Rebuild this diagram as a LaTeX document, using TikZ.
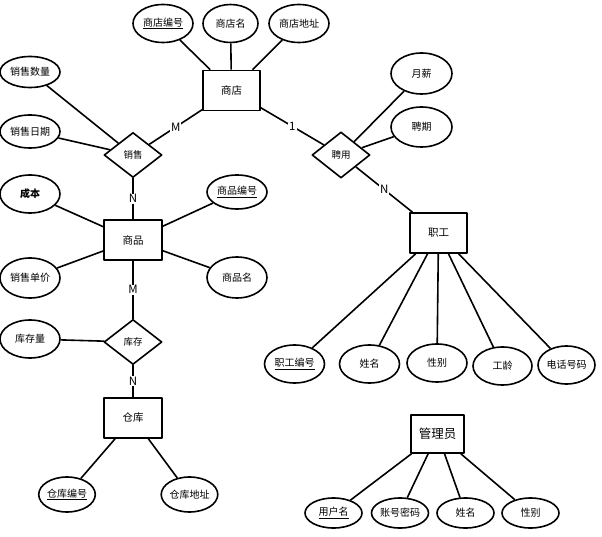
\documentclass[tikz,border=0pt]{standalone}
\usepackage{fontspec}
\setmainfont{Noto Sans CJK SC}
\usetikzlibrary{shapes.geometric}
\begin{document}
\begin{tikzpicture}[x=1pt, y=-1pt, line width=1.6pt, line join=round, font=\fontsize{10}{12}\selectfont,
  attr/.style={draw, ellipse, minimum width=60pt, minimum height=38pt, inner sep=0pt},
  ent/.style={draw, rectangle, minimum width=57pt, minimum height=40pt, inner sep=0pt, font=\fontsize{10.5}{12}\selectfont},
  rel/.style={draw, diamond, minimum width=58pt, minimum height=45pt, inner sep=0pt, font=\fontsize{9.5}{12}\selectfont},
  card/.style={fill=white, inner sep=1pt, font=\fontsize{11.5}{13}\selectfont}]
\useasboundingbox (0,0) rectangle (602,537);
% shop
\node[ent] (shop) at (231.5,90.5) {商店};
\node[attr] (shopid) at (163,23.5) {\underline{商店编号}};
\node[attr, minimum width=55pt] (shopname) at (230.5,23.5) {商店名};
\node[attr] (shopaddr) at (299,23.5) {商店地址};
% sales
\node[rel] (sell) at (133,155) {销售};
\node[attr, minimum height=31pt] (sellnum) at (30,72) {销售数量};
\node[attr, minimum height=33pt] (selldate) at (30,131.5) {销售日期};
% goods
\node[ent, minimum width=58pt] (goods) at (133,240) {商品};
\node[attr] (cost) at (30,194) {\bfseries 成本};
\node[attr, minimum height=34pt] (goodsid) at (237,192) {\underline{商品编号}};
\node[attr, minimum height=41pt] (goodsname) at (237,277.5) {商品名};
\node[attr, minimum height=40pt] (price) at (30,278) {销售单价};
% stock
\node[rel] (stock) at (133,342) {库存};
\node[attr] (stocknum) at (30,339) {库存量};
\node[ent, minimum width=58pt] (store) at (133,418) {仓库};
\node[attr, minimum width=53pt, minimum height=35pt] (storeid) at (67,494.5) {\underline{仓库编号}};
\node[attr, minimum width=53pt, minimum height=35pt] (storeaddr) at (189.5,494.5) {仓库地址};
% hire
\node[rel, minimum height=46pt] (hire) at (341,155) {聘用};
\node[attr, minimum width=61pt, minimum height=41pt] (salary) at (421.5,73.5) {月薪};
\node[attr, minimum width=61pt, minimum height=40pt] (term) at (421.5,127) {聘期};
\node[ent] (staff) at (438.5,233) {职工};
\node[attr] (staffid) at (294.5,364) {\underline{职工编号}};
\node[attr] (staffname) at (369.5,364) {姓名};
\node[attr] (staffsex) at (437,363) {性别};
\node[attr, minimum width=59pt] (staffage) at (502.5,366) {工龄};
\node[attr, minimum width=57pt] (stafftel) at (566.5,365) {电话号码};
% admin
\node[ent, minimum width=53pt, minimum height=38pt, font=\fontsize{12.5}{14}\selectfont] (admin) at (437.5,434) {管理员};
\node[attr, minimum width=57pt, minimum height=30pt] (user) at (333.5,513) {\underline{用户名}};
\node[attr, minimum width=57pt, minimum height=30pt] (pwd) at (400,513) {账号密码};
\node[attr, minimum width=57pt, minimum height=30pt] (adminname) at (465.5,513) {姓名};
\node[attr, minimum width=57pt, minimum height=30pt] (adminsex) at (530.5,513) {性别};
% attribute lines
\foreach \a/\b in {shop/shopid, shop/shopname, shop/shopaddr, sell/sellnum, sell/selldate,
  goods/cost, goods/goodsid, goods/goodsname, goods/price, stock/stocknum,
  store/storeid, store/storeaddr, hire/salary, hire/term,
  staff/staffid, staff/staffname, staff/staffsex, staff/staffage, staff/stafftel,
  admin/user, admin/pwd, admin/adminname, admin/adminsex}
  \draw (\a) -- (\b);
% relationships
\draw (shop) -- (sell) node[card, midway] {M};
\draw (shop) -- (hire) node[card, midway] {1};
\draw (sell) -- (goods) node[card, midway] {N};
\draw (goods) -- (stock) node[card, midway] {M};
\draw (stock) -- (store) node[card, midway] {N};
\draw (hire) -- (staff) node[card, midway] {N};
\end{tikzpicture}
\end{document}
